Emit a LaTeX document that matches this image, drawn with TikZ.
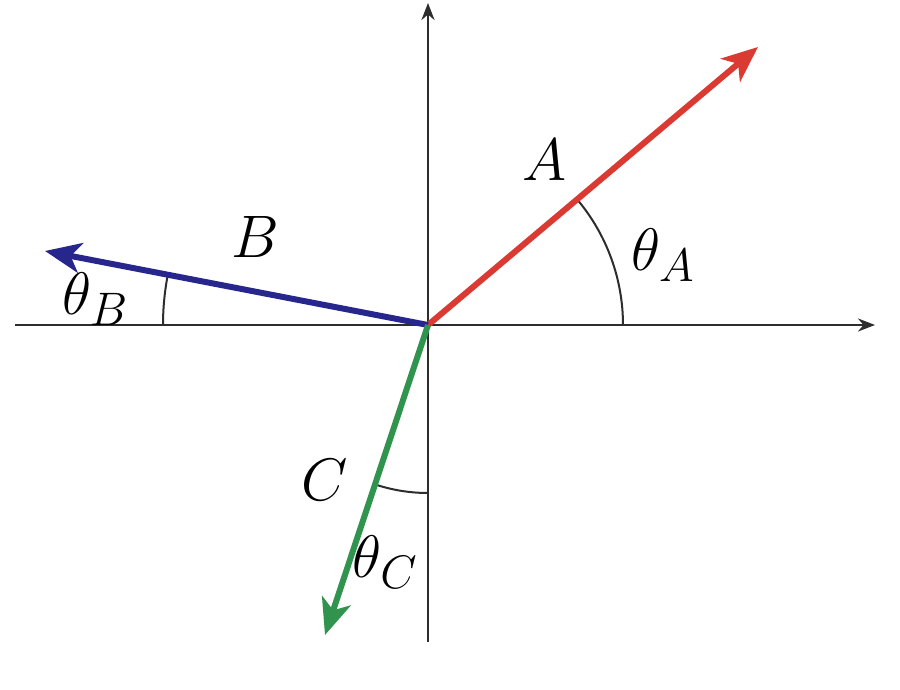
\RequirePackage{fix-cm}
\documentclass[tikz,border=0pt]{standalone}
\usetikzlibrary{arrows.meta}
\DeclareMathSizes{60}{60}{47}{38}
\definecolor{vred}{RGB}{218,58,50}
\definecolor{vblue}{RGB}{38,38,140}
\definecolor{vgreen}{RGB}{48,148,78}
\definecolor{axisgray}{RGB}{45,45,45}
\tikzset{
  axisline/.style={draw=axisgray, line width=2.6pt, -{Stealth[length=17pt,width=13pt]}},
  vecline/.style={line width=6pt, -{Stealth[length=36pt,width=30pt,inset=10pt]}},
  anglearc/.style={draw=axisgray, line width=2pt},
  lbl/.style={font=\fontsize{60}{64}\selectfont, inner sep=0pt}
}
\begin{document}
\begin{tikzpicture}[x=1pt,y=1pt]
\useasboundingbox[fill=white] (-428,-365) rectangle (472,325);
\coordinate (O) at (0,0);
\coordinate (xl) at (-413,0);
\coordinate (xr) at (447,0);
\coordinate (yb) at (0,-317);
\coordinate (yt) at (0,322);
\coordinate (tA) at (330,278);
\coordinate (tB) at (-383,74);
\coordinate (tC) at (-103,-310);
\draw[axisline] (xl) -- (xr);
\draw[axisline] (yb) -- (yt);
\draw[anglearc] (195,0) arc[start angle=0,end angle=40.1,radius=195];
\draw[anglearc] (-265,0) arc[start angle=180,end angle=169.1,radius=265];
\draw[anglearc] (0,-168) arc[start angle=270,end angle=251.6,radius=168];
\draw[vecline, vred] (O) -- (tA);
\draw[vecline, vblue] (O) -- (tB);
\draw[vecline, vgreen] (O) -- (tC);
\node[lbl] (lA) at (117,165) {$A$};
\node[lbl] (lB) at (-173,88) {$B$};
\node[lbl] (lC) at (-103,-155) {$C$};
\node[lbl] (lthA) at (235,70) {$\theta_A$};
\node[lbl] (lthB) at (-333,26) {$\theta_B$};
\node[lbl] (lthC) at (-43,-237) {$\theta_C$};
\end{tikzpicture}
\end{document}
